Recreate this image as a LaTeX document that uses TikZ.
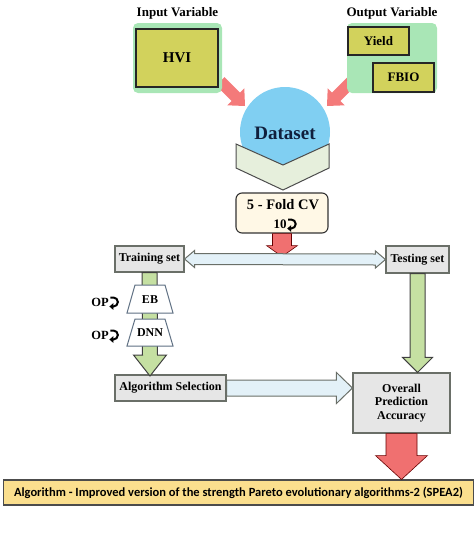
\documentclass[tikz,border=0pt]{standalone}
\usepackage{fontspec}
\setmainfont{Liberation Serif}
\newfontfamily\calib{Carlito}
\usetikzlibrary{calc,arrows.meta}
\definecolor{mint}{HTML}{A9E6B6}
\definecolor{olive}{HTML}{D2D25C}
\definecolor{dsblue}{HTML}{80CFF2}
\definecolor{chev}{HTML}{E6EFDC}
\definecolor{cream}{HTML}{FFF8E6}
\definecolor{salmon}{HTML}{F47A7A}
\definecolor{redarr}{HTML}{F07070}
\definecolor{boxgray}{HTML}{E6E6E6}
\definecolor{boxline}{HTML}{6A6F68}
\definecolor{lblue}{HTML}{E3F1F8}
\definecolor{lgreen}{HTML}{C5E0A2}
\definecolor{barfill}{HTML}{FBDF8E}
\definecolor{navy}{HTML}{101F3C}
\definecolor{trapline}{HTML}{5F7083}
\begin{document}
\begin{tikzpicture}[x=1pt,y=-1pt,
  txt/.style={font=\fontsize{#1}{#1}\selectfont\bfseries, inner sep=0},
  txt/.default=12,
  grp/.style={fill=mint, rounded corners=5pt, inner sep=0},
  obox/.style={draw=black!85, fill=olive, line width=1.4pt, inner sep=0, font=\fontsize{13}{13}\selectfont\bfseries},
  gbox/.style={draw=boxline, fill=boxgray, line width=1.1pt, inner sep=0, font=\fontsize{12}{13.7}\selectfont\bfseries, align=center},
  bluearr/.style={draw=boxline, fill=lblue, line width=1pt, line join=miter},
  greenarr/.style={draw=black!75, fill=lgreen, line width=1pt, line join=miter},
  redfat/.style={draw=red!40!black, fill=redarr, line width=0.6pt, line join=miter},
  trap/.style={draw=trapline, fill=white, line width=1pt},
  curl/.style={line width=2pt, -{Triangle[length=4pt,width=6.5pt]}}
]
\useasboundingbox (0,0) rectangle (474,539);

% salmon arrows into dataset
\fill[salmon] (224.5,77.1) -- (240.0,92.6) -- (244.3,88.3) -- (245,106) -- (227.3,105.3) -- (231.6,101.0) -- (216.1,85.5) -- cycle;
\fill[salmon] (347.5,77.1) -- (332.0,92.6) -- (327.7,88.3) -- (327,106) -- (344.7,105.3) -- (340.4,101.0) -- (355.9,85.5) -- cycle;

% input variable
\node[grp, minimum width=89, minimum height=70] (ingrp) at (177.5,58) {};
\node[obox, minimum width=82, minimum height=58, font=\fontsize{15}{15}\selectfont\bfseries] (hvi) at (177,58) {HVI};
\node[txt=13] (inlbl) at (177.5,13) {Input Variable};

% output variable
\node[grp, minimum width=90, minimum height=70] (outgrp) at (392,58) {};
\node[obox, minimum width=61, minimum height=28] (yield) at (378.5,41) {Yield};
\node[obox, minimum width=61, minimum height=29] (fbio) at (403.5,77.5) {FBIO};
\node[txt=13] (outlbl) at (392,13) {Output Variable};

% dataset
\node[circle, fill=dsblue, minimum size=90, inner sep=0] (dscirc) at (285,132) {};
\draw[draw=black!70, fill=chev, line width=1pt, line join=miter] (236,144) -- (283,165) -- (329,144) -- (329,168) -- (283,190) -- (236,168) -- cycle;
\node[txt=19, text=navy] (ds) at (285,133) {Dataset};

% 5-fold CV
\node[draw=black!80, fill=cream, rounded corners=6pt, line width=1.1pt, minimum width=92, minimum height=40, inner sep=0] (cv) at (282,213) {};
\node[txt=14.5] (cvt) at (283,205) {5 - Fold CV};
\node[txt=13] (ten) at (280,224) {10};
\draw[curl] ($(ten.east)+(1.5,-4.5)$) -- ++(3,0) arc(-90:90:4.5) -- ++(-4,0);

% red arrow cv -> split
\draw[redfat] ($(cv.south)+(-9.5,0)$) -- ++(0,12) -- ++(-6,0) -- ($(cv.south)+(0,23)$) -- ($(cv.south)+(15.5,12)$) -- ++(-6,0) -- ($(cv.south)+(9.5,0)$) -- cycle;

% training and testing
\node[gbox, minimum width=69, minimum height=26] (trn) at (149.5,259) {Training set};
\node[gbox, minimum width=63, minimum height=27] (tst) at (417.5,259.5) {Testing set};

% double arrow
\draw[bluearr] (trn.east) -- ++(10,-8.5) -- ++(0,3) -- ($(tst.west)+(-10,-5.5)$) -- ++(0,-3) -- (tst.west) -- ++(-10,8.5) -- ++(0,-3) -- ($(trn.east)+(10,5.5)$) -- ++(0,3) -- cycle;

% algorithm selection and overall
\node[gbox, minimum width=111, minimum height=26] (alg) at (170.5,388) {Algorithm Selection};
\node[gbox, minimum width=97, minimum height=60] (ovr) at (401.5,403) {Overall\\Prediction\\Accuracy};

% training column green arrow
\coordinate (tip1) at (150,376);
\draw[greenarr] ($(trn.south)+(-7.5,0)$) -- ($(tip1)+(-7.5,-21)$) -- ++(-9,0) -- (tip1) -- ++(16.5,-21) -- ++(-9,0) -- ($(trn.south)+(7.5,0)$) -- cycle;

% EB and DNN
\draw[trap] (135,285) -- (165,285) -- (173,313) -- (127,313) -- cycle;
\node[txt=12] (eb) at (150,299.5) {EB};
\draw[trap] (135,319) -- (165,319) -- (173,346) -- (127,346) -- cycle;
\node[txt=12] (dnn) at (150,333) {DNN};

\node[txt=12.5] (op1) at (100,302) {OP};
\draw[curl] ($(op1.east)+(1.5,-4.5)$) -- ++(3,0) arc(-90:90:4.5) -- ++(-4,0);
\node[txt=12.5] (op2) at (100,335) {OP};
\draw[curl] ($(op2.east)+(1.5,-4.5)$) -- ++(3,0) arc(-90:90:4.5) -- ++(-4,0);

% testing -> overall
\draw[greenarr] ($(tst.south)+(-7.5,0)$) -- ($(tst.south|-ovr.north)+(-7.5,-15)$) -- ++(-7.5,0) -- (tst.south|-ovr.north) -- ++(15,-15) -- ++(-7.5,0) -- ($(tst.south)+(7.5,0)$) -- cycle;

% algorithm -> overall
\coordinate (atip) at (ovr.west|-alg.east);
\draw[bluearr] ($(alg.east)+(0,-8)$) -- ($(atip)+(-16,-8)$) -- ++(0,-7.5) -- (atip) -- ++(-16,15.5) -- ++(0,-7.5) -- ($(alg.east)+(0,8)$) -- cycle;

% bottom bar
\node[draw=black!70, fill=barfill, line width=1.1pt, minimum width=470, minimum height=25, inner sep=0, font=\calib\fontsize{12.5}{12.5}\selectfont\bfseries] (bar) at (238.5,492.5) {Algorithm - Improved version of the strength Pareto evolutionary algorithms-2 (SPEA2)};

% overall -> bar
\draw[redfat] ($(ovr.south)+(-15.5,0)$) -- ++(0,22) -- ++(-10.5,0) -- ($(ovr.south|-bar.north)$) -- ($(ovr.south)+(26,22)$) -- ++(-10.5,0) -- ($(ovr.south)+(15.5,0)$) -- cycle;
\end{tikzpicture}
\end{document}
